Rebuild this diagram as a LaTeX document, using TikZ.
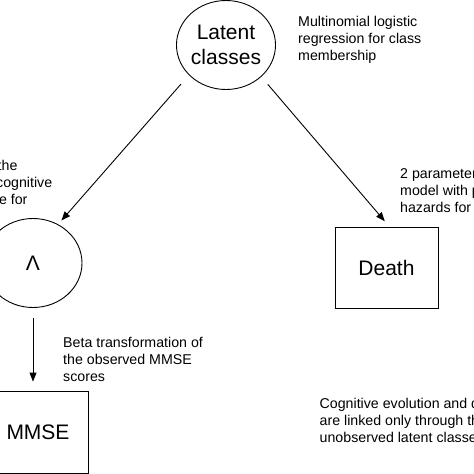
\documentclass[tikz,border=0pt]{standalone}
\usepackage{fontspec}
\setmainfont{Liberation Sans}
\usetikzlibrary{arrows.meta,shapes.geometric}

\begin{document}
\begin{tikzpicture}[x=1pt,y=-1pt,
        bigtext/.style={font=\fontsize{21}{25}\selectfont, align=center},
        note/.style={font=\fontsize{14.2}{17}\selectfont, align=left, anchor=base west, inner sep=0pt},
        oval/.style={draw, ellipse, line width=0.9pt, inner sep=0pt, minimum width=98pt, minimum height=89pt, bigtext},
        box/.style={draw, rectangle, line width=0.9pt, inner sep=0pt, bigtext},
        arr/.style={line width=0.9pt, -{Triangle[length=9pt,width=7pt]}}]
        \useasboundingbox (0,0) rectangle (474,474);
        \clip (0,0) rectangle (474,474);

        \node[oval] (latent) at (226,45) {Latent\\classes};
        \node[oval] (lam) at (33,263) {Λ};
        \node[box, minimum width=103pt, minimum height=81pt] (death) at (386.5,267.5) {Death};
        \node[box, minimum width=100pt, minimum height=82pt] (mmse) at (38,432) {MMSE};

        \node[note] (member) at (298,60) {Multinomial logistic\\regression for class\\membership};
        \node[note] (mixed) at (-107.4,204) {Mixed model for the\\decline of latent cognitive\\level, i.e. its score for};
        \node[note] (weibull) at (400,212) {2 parameter Weibull\\model with proportional\\hazards for death};
        \node[note] (beta) at (63,381) {Beta transformation of\\the observed MMSE\\scores};
        \node[note] (link) at (319.5,442) {Cognitive evolution and death\\are linked only through the\\unobserved latent classes};

        \draw[arr, shorten <=12pt, shorten >=5pt] (latent.219) -- (lam.57);
        \draw[arr, shorten <=10pt, shorten >=7pt] (latent.318) -- (death.86);
        \draw[arr, shorten <=10pt, shorten >=9pt] (lam.south) -- (lam.south |- mmse.north);
    \end{tikzpicture}
\end{document}
